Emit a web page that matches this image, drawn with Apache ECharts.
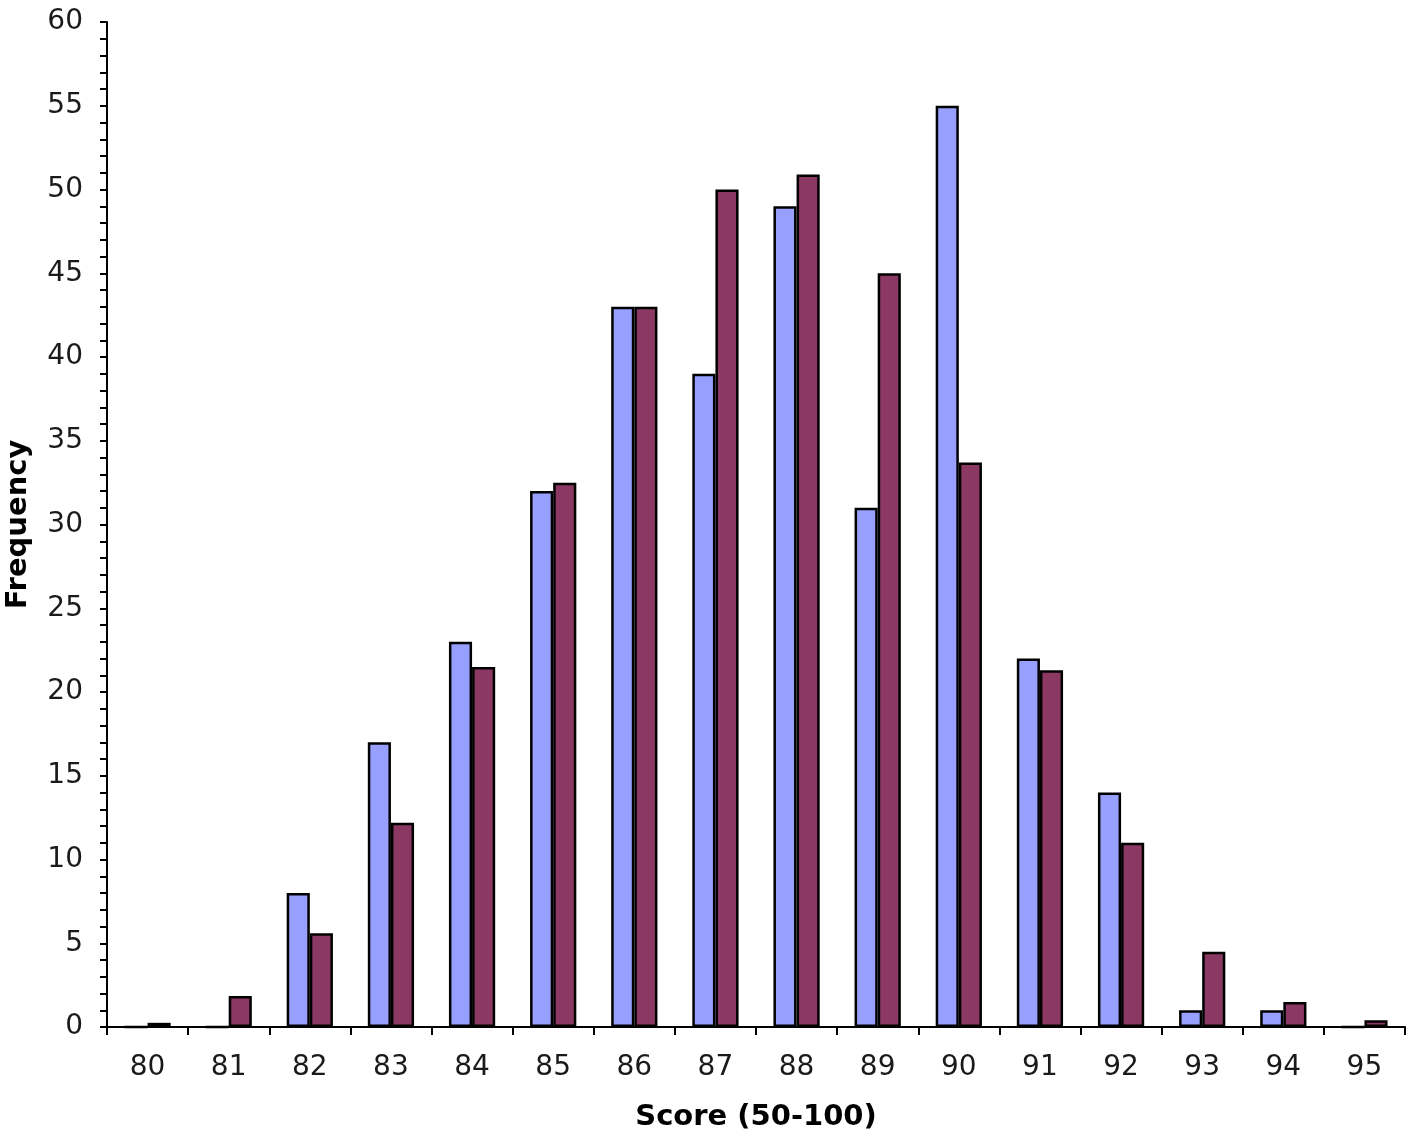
<!DOCTYPE html>
<html>
<head>
<meta charset="utf-8">
<script src="https://cdn.jsdelivr.net/npm/echarts@6/dist/echarts.min.js"></script>
<style>
html, body { margin: 0; padding: 0; background: #fff; }
#main { width: 1413px; height: 1143px; }
</style>
</head>
<body>
<div id="main"></div>
<script>
// score categories and the two frequency series
var scores = ['80','81','82','83','84','85','86','87','88','89','90','91','92','93','94','95'];
var blueFreq = [0, 0, 8, 17, 23, 32, 43, 39, 49, 31, 55, 22, 14, 1, 1, 0];
var redFreq = [0.25, 1.85, 5.6, 12.2, 21.5, 32.5, 43, 50, 50.9, 45, 33.7, 21.3, 11, 4.5, 1.5, 0.4];

var chart = echarts.init(document.getElementById('main'));

var font = 'DejaVu Sans, Verdana, sans-serif';

option = {
    animation: false,
    grid: {
        left: 107,
        right: 8,
        top: 22,
        bottom: 116,
        outerBoundsMode: 'none'
    },
    xAxis: {
        type: 'category',
        data: scores,
        name: 'Score (50-100)',
        nameLocation: 'middle',
        nameGap: 76,
        nameTextStyle: { fontFamily: font, fontSize: 29, fontWeight: 'bold', color: '#000' },
        axisLine: { lineStyle: { color: '#000', width: 2 } },
        axisTick: { show: true, length: 8, lineStyle: { color: '#000', width: 2 } },
        axisLabel: { fontFamily: font, fontSize: 28, color: '#1a1a1a', margin: 27 }
    },
    yAxis: {
        type: 'value',
        min: 0,
        max: 60,
        interval: 5,
        name: 'Frequency',
        nameLocation: 'middle',
        nameGap: 74,
        nameRotate: 90,
        nameTextStyle: { fontFamily: font, fontSize: 29, fontWeight: 'bold', color: '#000' },
        axisLine: { show: true, lineStyle: { color: '#000', width: 2 } },
        axisTick: { show: true, length: 7, lineStyle: { color: '#000', width: 2 } },
        minorTick: { show: true, splitNumber: 5, length: 7, lineStyle: { color: '#000', width: 2 } },
        splitLine: { show: false },
        axisLabel: { fontFamily: font, fontSize: 28, color: '#1a1a1a', margin: 24 }
    },
    series: [
        {
            name: 'A',
            type: 'bar',
            data: blueFreq,
            barGap: '0%',
            barCategoryGap: '43%',
            itemStyle: { color: '#97A0FF', borderColor: '#000', borderWidth: 2.5 }
        },
        {
            name: 'B',
            type: 'bar',
            data: redFreq,
            itemStyle: { color: '#8B3862', borderColor: '#000', borderWidth: 2.5 }
        }
    ]
};

chart.setOption(option);
</script>
</body>
</html>
